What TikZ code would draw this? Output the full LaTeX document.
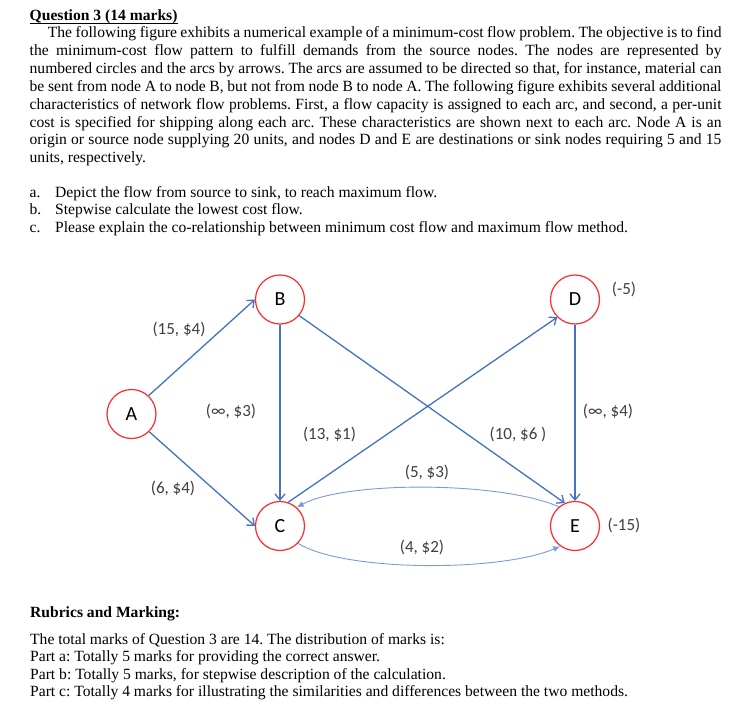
\documentclass[tikz,border=0pt]{standalone}
\usepackage{fontspec}
\setmainfont{Liberation Serif}
\newfontfamily\calfont{Carlito}
\usetikzlibrary{arrows.meta}
\definecolor{eblue}{HTML}{4472C4}
\definecolor{lblue}{HTML}{7A9CDA}
\definecolor{nred}{HTML}{FF2A2A}
\definecolor{lgray}{HTML}{404040}
\begin{document}
\frenchspacing
\begin{tikzpicture}[x=1pt,y=-1pt,
  txt/.style={anchor=base west, inner sep=0pt, font=\fontsize{15.6}{17.8}\selectfont\frenchspacing},
  btxt/.style={txt, font=\fontsize{15.6}{17.8}\selectfont\bfseries},
  nd/.style={circle, draw=nred, line width=1.2pt, minimum size=49pt, inner sep=0pt, font=\calfont\fontsize{20}{20}\selectfont},
  edge/.style={draw=eblue, line width=1.3pt, -{Straight Barb[length=6pt,width=10pt,line width=1.3pt]}},
  thinedge/.style={draw=lblue, line width=0.9pt, -{Latex[length=7pt,width=6pt]}},
  lab/.style={inner sep=0pt, text=lgray, font=\calfont\fontsize{17}{17}\selectfont}]
\useasboundingbox (0,0) rectangle (734,720);
\fill[white] (0,0) rectangle (734,720);
% text block
\node[btxt] (q) at (29.5,20) {Question 3 (14 marks)};
\draw[line width=0.9pt] ([yshift=-3pt]q.base west) -- ([yshift=-3pt]q.base east);
\node[txt] (l2) at (47.7,37.8) {\makebox[673.6pt][s]{The following figure exhibits a numerical example of a minimum-cost flow problem. The objective is to find}};
\node[txt] (l3) at (29.5,55.65) {\makebox[691.8pt][s]{the minimum-cost flow pattern to fulfill demands from the source nodes. The nodes are represented by}};
\node[txt] (l4) at (29.5,73.5) {\makebox[691.8pt][s]{numbered circles and the arcs by arrows. The arcs are assumed to be directed so that, for instance, material can}};
\node[txt] (l5) at (29.5,91.35) {\makebox[691.8pt][s]{be sent from node A to node B, but not from node B to node A. The following figure exhibits several additional}};
\node[txt] (l6) at (29.5,109.2) {\makebox[691.8pt][s]{characteristics of network flow problems. First, a flow capacity is assigned to each arc, and second, a per-unit}};
\node[txt] (l7) at (29.5,127.05) {\makebox[691.8pt][s]{cost is specified for shipping along each arc. These characteristics are shown next to each arc. Node A is an}};
\node[txt] (l8) at (29.5,144.9) {\makebox[691.8pt][s]{origin or source node supplying 20 units, and nodes D and E are destinations or sink nodes requiring 5 and 15}};
\node[txt] (l9) at (29.5,162.75) {units, respectively.};
\node[txt] (ia) at (29.5,197.3) {a.};
\node[txt] (ta) at (55,197.3) {Depict the flow from source to sink, to reach maximum flow.};
\node[txt] (ib) at (29.5,214.8) {b.};
\node[txt] (tb) at (55,214.8) {Stepwise calculate the lowest cost flow.};
\node[txt] (ic) at (29.5,232.3) {c.};
\node[txt] (tc) at (55,232.3) {Please explain the co-relationship between minimum cost flow and maximum flow method.};
% rubrics
\node[btxt] (r0) at (30,617.5) {Rubrics and Marking:};
\node[txt] (r1) at (30,644) {The total marks of Question 3 are 14. The distribution of marks is:};
\node[txt] (r2) at (30,661.5) {Part a: Totally 5 marks for providing the correct answer.};
\node[txt] (r3) at (30,679) {Part b: Totally 5 marks, for stepwise description of the calculation.};
\node[txt] (r4) at (30,696.5) {Part c: Totally 4 marks for illustrating the similarities and differences between the two methods.};
% graph nodes
\node[nd] (A) at (131.5,414) {A};
\node[nd] (B) at (280,299.5) {B};
\node[nd] (C) at (280,526) {C};
\node[nd] (D) at (575,299.5) {D};
\node[nd] (E) at (575,526) {E};
% edges
\draw[edge] (A.47) -- (B.west);
\draw[edge] (A.-45) -- (C.west);
\draw[edge] (B.south) -- (C.north);
\draw[edge] (B.-40) -- (E.114);
\draw[edge] (C.71) -- (D.-135);
\draw[edge] (D.south) -- (E.north);
\draw[thinedge] (E.130) .. controls (500,481) and (345,481) .. (C.48);
\draw[thinedge] (C.-44) .. controls (345,572) and (500,572) .. (E.-126);
% labels
\node[lab] (lab1) at (179,329) {(15, \$4)};
\node[lab] (lab2) at (231,411.5) {(∞, \$3)};
\node[lab] (lab3) at (329.5,434) {(13, \$1)};
\node[lab] (lab4) at (518,434) {(10, \$6 )};
\node[lab] (lab5) at (608,411.5) {(∞, \$4)};
\node[lab] (lab6) at (624,289) {(-5)};
\node[lab] (lab7) at (173,488.5) {(6, \$4)};
\node[lab] (lab8) at (427,472.5) {(5, \$3)};
\node[lab] (lab9) at (422,547.5) {(4, \$2)};
\node[lab] (lab10) at (624,525.5) {(-15)};
\end{tikzpicture}
\end{document}
